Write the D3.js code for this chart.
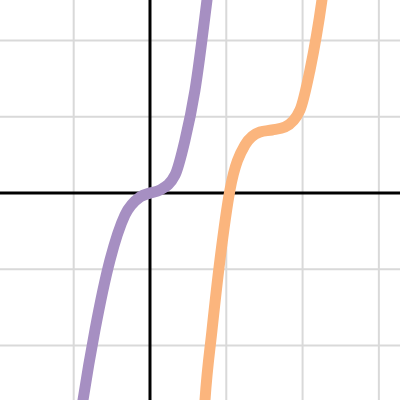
<!DOCTYPE html>
<html><head><meta charset="utf-8">
<script src="https://cdn.jsdelivr.net/npm/d3@7"></script>
<style>body{margin:0;background:#fff}</style></head>
<body><svg id="c" width="400" height="400"></svg>
<script>
const gridTicks = [-2,-1,0,1,2,3];
const purpleX = [-0.95,-0.878,-0.721,-0.524,-0.328,-0.131,0,0.131,0.328,0.459,0.590,0.747,0.78];
const purpleY = [-3.2,-2.713,-1.796,-0.878,-0.288,-0.052,0,0.039,0.236,0.695,1.35,2.53,2.8];
const orangeX = [0.69,0.721,0.813,0.917,1.048,1.245,1.442,1.599,1.769,1.966,2.097,2.254,2.29];
const orangeY = [-3.2,-2.713,-1.796,-0.878,0.039,0.629,0.8,0.826,0.865,1.088,1.612,2.53,2.8];
const svg = d3.select("#c");
const x = d3.scaleLinear().domain([-1.966,3.277]).range([0,400]);
const y = d3.scaleLinear().domain([-2.713,2.53]).range([400,0]);
svg.selectAll(".gx").data(gridTicks).join("line").attr("x1",d=>x(d)).attr("x2",d=>x(d)).attr("y1",0).attr("y2",400).attr("stroke","#d9d9d9").attr("stroke-width",2);
svg.selectAll(".gy").data(gridTicks).join("line").attr("y1",d=>y(d)).attr("y2",d=>y(d)).attr("x1",0).attr("x2",400).attr("stroke","#d9d9d9").attr("stroke-width",2);
svg.append("line").attr("x1",x(0)).attr("x2",x(0)).attr("y1",0).attr("y2",400).attr("stroke","#000").attr("stroke-width",3);
svg.append("line").attr("y1",y(0)).attr("y2",y(0)).attr("x1",0).attr("x2",400).attr("stroke","#000").attr("stroke-width",3);
const line = d3.line().x(d=>x(d[0])).y(d=>y(d[1])).curve(d3.curveMonotoneX);
svg.append("path").attr("d",line(d3.zip(purpleX,purpleY))).attr("fill","none").attr("stroke","#a68fc2").attr("stroke-width",11).attr("stroke-linejoin","round");
svg.append("path").attr("d",line(d3.zip(orangeX,orangeY))).attr("fill","none").attr("stroke","#fbb57d").attr("stroke-width",11).attr("stroke-linejoin","round");
</script></body></html>
